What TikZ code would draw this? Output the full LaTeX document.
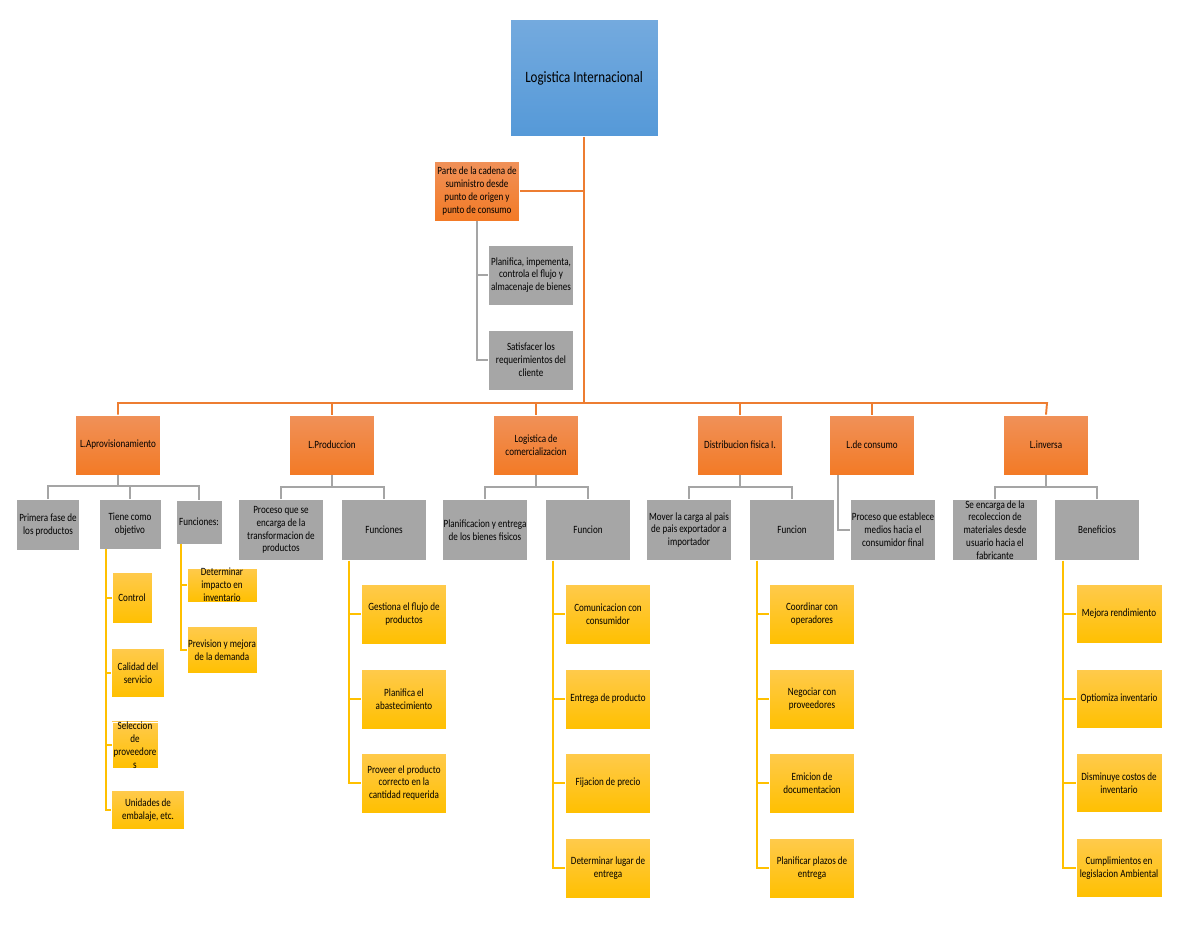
\documentclass[tikz,border=0pt]{standalone}
\usepackage{fontspec}
\setmainfont{Carlito}[FakeStretch=0.82]
\usetikzlibrary{positioning}
\definecolor{boxBlueTop}{HTML}{74AADE}
\definecolor{boxBlue}{HTML}{5599D8}
\definecolor{boxOrangeTop}{HTML}{F09159}
\definecolor{boxOrange}{HTML}{F37A25}
\definecolor{boxGray}{HTML}{A6A6A6}
\definecolor{boxYellowTop}{HTML}{FFCA4C}
\definecolor{boxYellow}{HTML}{FFC000}
\definecolor{lineOrange}{HTML}{ED7D31}
\definecolor{lineGray}{HTML}{A5A5A5}
\definecolor{lineYellow}{HTML}{FFC000}
\newcommand{\boxfont}{\fontsize{6.3}{7.3}\selectfont}

\begin{document}
\begin{tikzpicture}[x=0.02cm, y=-0.02cm,
    basebox/.style={draw=white, line width=0.4pt, align=center, inner sep=0pt,
      font=\boxfont, minimum width=1.7cm, minimum height=1.2cm},
    rootbox/.style={basebox, top color=boxBlueTop, bottom color=boxBlue,
      minimum width=2.96cm, minimum height=2.34cm, font=\fontsize{9}{11}\selectfont},
    orangebox/.style={basebox, top color=boxOrangeTop, bottom color=boxOrange},
    graybox/.style={basebox, fill=boxGray},
    yellowbox/.style={basebox, top color=boxYellowTop, bottom color=boxYellow},
    wh/.style 2 args={minimum width=#1cm, minimum height=#2cm},
    orangeline/.style={lineOrange, line width=1.1pt},
    grayline/.style={lineGray, line width=1.3pt},
    yellowline/.style={lineYellow, line width=1.1pt}]
  \useasboundingbox (0,0) rectangle (1200,927);

  % Top
  \node[rootbox] (root) at (584,78) {Logistica Internacional};
  \node[orangebox] (cadena) at (477,191) {Parte de la cadena de\\suministro desde\\punto de origen y\\punto de consumo};
  \node[graybox] (plan) at (531,275) {Planifica, impementa,\\controla el flujo y\\almacenaje de bienes};
  \node[graybox] (sati) at (531,360) {Satisfacer los\\requerimientos del\\cliente};

  % Level 2: types of logistics
  \node[orangebox] (apro) at (118,445) {L.Aprovisionamiento};
  \node[orangebox] (prod) at (332,445) {L.Produccion};
  \node[orangebox] (come) at (536,445) {Logistica de\\comercializacion};
  \node[orangebox] (dist) at (740,445) {Distribucion fisica I.};
  \node[orangebox] (cons) at (872,445) {L.de consumo};
  \node[orangebox] (inv) at (1046,445) {L.inversa};

  % Level 3
  \node[graybox, wh={1.26}{1.02}] (prim) at (48,525) {Primera fase de\\los productos};
  \node[graybox, wh={1.24}{1.0}] (tiene) at (130,524) {Tiene como\\objetivo};
  \node[graybox, wh={0.92}{0.88}] (funA) at (199,522) {Funciones:};
  \node[graybox, wh={1.7}{1.22}] (procP) at (281,530) {Proceso que se\\encarga de la\\transformacion de\\productos};
  \node[graybox, wh={1.7}{1.22}] (funP) at (384,530) {Funciones};
  \node[graybox, wh={1.7}{1.22}] (planC) at (485,530) {Planificacion y entrega\\de los bienes fisicos};
  \node[graybox, wh={1.7}{1.22}] (funC) at (588,530) {Funcion};
  \node[graybox, wh={1.7}{1.22}] (mover) at (689,530) {Mover la carga al pais\\de pais exportador a\\importador};
  \node[graybox, wh={1.7}{1.22}] (funD) at (792,530) {Funcion};
  \node[graybox, wh={1.7}{1.22}] (procC) at (893,530) {Proceso que establece\\medios hacia el\\consumidor final};
  \node[graybox, wh={1.7}{1.22}] (reco) at (995,530) {Se encarga de la\\recoleccion de\\materiales desde\\usuario hacia el\\fabricante};
  \node[graybox, wh={1.7}{1.22}] (bene) at (1097,530) {Beneficios};

  % Level 4: aprovisionamiento
  \node[yellowbox, wh={0.8}{1.02}] (ctrl) at (132,598) {Control};
  \node[yellowbox, wh={1.06}{0.98}] (cali) at (138,673) {Calidad del\\servicio};
  \node[yellowbox, wh={0.92}{0.9}] (sele) at (135,745) {Seleccion\\de\\proveedore\\s};
  \node[yellowbox, wh={1.46}{0.78}] (unid) at (148,810) {Unidades de\\embalaje, etc.};
  \node[yellowbox, wh={1.4}{0.68}] (detImp) at (222,585) {Determinar\\impacto en\\inventario};
  \node[yellowbox, wh={1.4}{0.94}] (prev) at (222,650) {Prevision y mejora\\de la demanda};

  % Level 4: produccion
  \node[yellowbox] (gest) at (404,614) {Gestiona el flujo de\\productos};
  \node[yellowbox] (abas) at (404,699) {Planifica el\\abastecimiento};
  \node[yellowbox] (prov) at (404,783) {Proveer el producto\\correcto en la\\cantidad requerida};

  % Level 4: comercializacion
  \node[yellowbox] (comu) at (608,614) {Comunicacion con\\consumidor};
  \node[yellowbox] (entr) at (608,699) {Entrega de producto};
  \node[yellowbox] (fija) at (608,783) {Fijacion de precio};
  \node[yellowbox] (luga) at (608,868) {Determinar lugar de\\entrega};

  % Level 4: distribucion
  \node[yellowbox] (coor) at (812,614) {Coordinar con\\operadores};
  \node[yellowbox] (nego) at (812,699) {Negociar con\\proveedores};
  \node[yellowbox] (emic) at (812,783) {Emicion de\\documentacion};
  \node[yellowbox] (plaz) at (812,868) {Planificar plazos de\\entrega};

  % Level 4: beneficios
  \node[yellowbox, wh={1.72}{1.18}] (mejo) at (1119,614) {Mejora rendimiento};
  \node[yellowbox, wh={1.72}{1.18}] (opti) at (1119,699) {Optiomiza inventario};
  \node[yellowbox, wh={1.72}{1.18}] (dism) at (1119,783) {Disminuye costos de\\inventario};
  \node[yellowbox, wh={1.72}{1.18}] (cump) at (1119,868) {Cumplimientos en\\legislacion Ambiental};

  % Orange connectors
  \coordinate (busR) at (1047,403);
  \draw[orangeline] (root.south) -- (root.south |- busR);
  \draw[orangeline] (cadena.east) -- (cadena.east -| root.south);
  \draw[orangeline] (apro.north) |- (busR) -- (inv.north);
  \foreach \n in {prod,come,dist,cons}
    \draw[orangeline] (\n.north) -- (\n.north |- busR);

  % Gray connectors
  \draw[grayline] (cadena.south) |- (plan.west);
  \draw[grayline] (cadena.south) |- (sati.west);
  \draw[grayline] (apro.south) -- ++(0,12);
  \draw[grayline] (prim.north) -- ++(0,-13) -| (funA.north);
  \draw[grayline] (tiene.north) -- ++(0,-13);
  \draw[grayline] (prod.south) -- ++(0,12);
  \draw[grayline] (procP.north) -- ++(0,-12) -| (funP.north);
  \draw[grayline] (come.south) -- ++(0,12);
  \draw[grayline] (planC.north) -- ++(0,-12) -| (funC.north);
  \draw[grayline] (dist.south) -- ++(0,12);
  \draw[grayline] (mover.north) -- ++(0,-12) -| (funD.north);
  \draw[grayline] ([xshift=0.18cm]cons.south west) |- (procC.west);
  \draw[grayline] (inv.south) -- ++(0,12);
  \draw[grayline] (reco.north) -- ++(0,-12) -| (bene.north);

  % Yellow connectors
  \foreach \n in {ctrl,cali,sele,unid}
    \draw[yellowline] ([xshift=0.14cm]tiene.south west) |- (\n.west);
  \foreach \n in {detImp,prev}
    \draw[yellowline] ([xshift=0.1cm]funA.south west) |- (\n.west);
  \foreach \n in {gest,abas,prov}
    \draw[yellowline] ([xshift=0.16cm]funP.south west) |- (\n.west);
  \foreach \n in {comu,entr,fija,luga}
    \draw[yellowline] ([xshift=0.16cm]funC.south west) |- (\n.west);
  \foreach \n in {coor,nego,emic,plaz}
    \draw[yellowline] ([xshift=0.16cm]funD.south west) |- (\n.west);
  \foreach \n in {mejo,opti,dism,cump}
    \draw[yellowline] ([xshift=0.18cm]bene.south west) |- (\n.west);
\end{tikzpicture}
\end{document}
